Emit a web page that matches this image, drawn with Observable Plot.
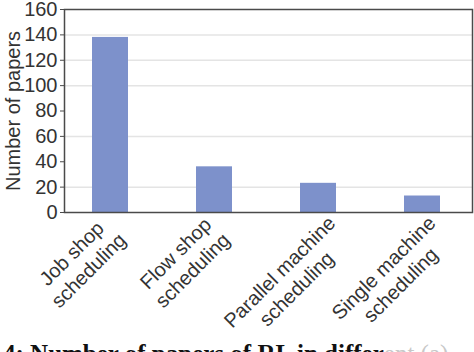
<!DOCTYPE html>
<html>
<head>
<meta charset="utf-8">
<script src="https://cdn.jsdelivr.net/npm/d3@7"></script>
<script src="https://cdn.jsdelivr.net/npm/@observablehq/plot@0.6"></script>
<style>
  html, body { margin: 0; padding: 0; background: #fff; overflow: hidden; width: 474px; height: 352px; }
  #wrap { position: relative; width: 474px; height: 352px; overflow: hidden; }
  #caption { position: absolute; left: 3px; top: 341px; font-family: "Liberation Serif", serif; font-weight: bold; font-size: 25px; line-height: 25px; color: #111; white-space: nowrap; }
  #caption span { color: #c8c8c8; font-weight: normal; }
</style>
</head>
<body>
<div id="wrap"><div id="chart"></div><div id="caption">4: Number of papers of RL in differ<span>ent (a)</span></div></div>
<script>
const categories = ["Job shop\nscheduling", "Flow shop\nscheduling", "Parallel machine\nscheduling", "Single machine\nscheduling"];
const papers = [138, 36, 23, 13];
const yTicks = [0, 20, 40, 60, 80, 100, 120, 140, 160];
const gridValues = [20, 60, 100, 120, 140];
const yLabel = "Number of papers";

const data = categories.map((c, i) => ({category: c, value: papers[i]}));

const fontFamily = "'Liberation Sans', Arial, sans-serif";
const labelSize = 20;
const lineH = 1.2;
const ctx = document.createElement("canvas").getContext("2d");
ctx.font = `${labelSize}px ${fontFamily}`;
function blockOffset(label) {
  const lines = label.split("\n");
  const w = Math.max(...lines.map(l => ctx.measureText(l).width));
  const h = lines.length * labelSize * lineH;
  return -2 + Math.SQRT1_2 / 2 * (w + h);
}

const labelMarks = data.map(d => Plot.text([d], {
  x: "category", frameAnchor: "bottom", text: "category",
  rotate: -45, textAnchor: "middle", lineAnchor: "middle", lineHeight: lineH,
  dx: -31, dy: blockOffset(d.category), fontSize: labelSize, fill: "#333"
}));

const chart = Plot.plot({
  width: 474,
  height: 352,
  marginLeft: 64,
  marginRight: 2,
  marginTop: 9,
  marginBottom: 140,
  style: {fontFamily, background: "#fff"},
  x: {domain: categories, range: [58, 474], paddingInner: 0.654, paddingOuter: 0.327, axis: null},
  y: {domain: [0, 160], axis: null},
  marks: [
    Plot.ruleY(gridValues, {stroke: "#e4e4e4", strokeWidth: 1.5}),
    Plot.barY(data, {x: "category", y: "value", fill: "#7d91cb"}),
    Plot.frame({stroke: "#4a4a4a", strokeWidth: 1.5}),
    Plot.axisY({ticks: yTicks, tickSize: 4, tickPadding: 3, fontSize: 20, color: "#333", stroke: "#4a4a4a", label: null}),
    Plot.text([yLabel], {frameAnchor: "left", rotate: -90, textAnchor: "middle", dx: -51, dy: 0, fontSize: 20, fill: "#333", text: d => d}),
    ...labelMarks
  ]
});
document.getElementById("chart").appendChild(chart);
</script>
</body>
</html>
